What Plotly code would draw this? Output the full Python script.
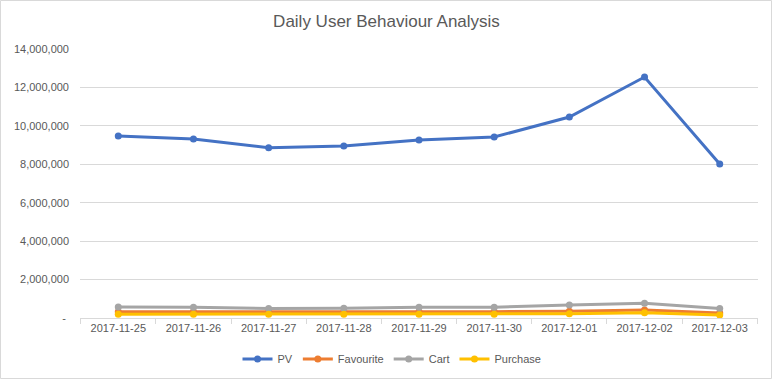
import plotly.graph_objects as go

dates = ["2017-11-25", "2017-11-26", "2017-11-27", "2017-11-28", "2017-11-29",
         "2017-11-30", "2017-12-01", "2017-12-02", "2017-12-03"]
pv = [9470000, 9320000, 8860000, 8950000, 9260000, 9420000, 10460000, 12540000, 8010000]
favourite = [330000, 330000, 310000, 310000, 320000, 330000, 350000, 420000, 260000]
cart = [570000, 560000, 500000, 510000, 560000, 560000, 680000, 770000, 500000]
purchase = [200000, 200000, 190000, 190000, 200000, 200000, 220000, 270000, 150000]

series = [("PV", pv, "#4472C4"), ("Favourite", favourite, "#ED7D31"),
          ("Cart", cart, "#A5A5A5"), ("Purchase", purchase, "#FFC000")]

ytick_vals = [0, 2000000, 4000000, 6000000, 8000000, 10000000, 12000000, 14000000]
ytick_text = [" - "] + [f"{v:,}" for v in ytick_vals[1:]]

fig = go.Figure()
for name, vals, color in series:
    fig.add_trace(go.Scatter(x=dates, y=vals, name=name, mode="lines+markers",
                             line=dict(color=color, width=3),
                             marker=dict(color=color, size=7)))

W, H = 773, 380
ml, mr, mt, mb = 80, 15, 49, 62
pw, ph = W - ml - mr, H - mt - mb

fnt = "Liberation Sans, Arial, sans-serif"
fig.update_layout(
    width=W, height=H,
    margin=dict(l=ml, r=mr, t=mt, b=mb, autoexpand=False),
    paper_bgcolor="white", plot_bgcolor="white",
    font=dict(family=fnt, color="#595959", size=11),
    title=dict(text="Daily User Behaviour Analysis", x=0.5, xanchor="center",
               xref="container", y=1 - 21 / H, yanchor="middle", yref="container",
               font=dict(size=17, color="#595959", family=fnt)),
    showlegend=True,
    legend=dict(orientation="h", x=(392 - ml) / pw, xanchor="center",
                yref="container", y=1 - 359 / H, yanchor="middle",
                font=dict(size=11, color="#595959"), itemwidth=30, tracegroupgap=0),
    xaxis=dict(type="category", tickson="boundaries", ticks="outside", ticklen=5,
               tickcolor="#d9d9d9", showline=True, linecolor="#d9d9d9", linewidth=1,
               showgrid=False, automargin=False, tickfont=dict(size=11, color="#595959")),
    yaxis=dict(range=[0, 14000000], tickvals=ytick_vals, ticktext=ytick_text,
               showgrid=True, gridcolor="#d9d9d9", gridwidth=1, zeroline=False,
               showline=False, ticks="", automargin=False, ticklabelstandoff=10,
               tickfont=dict(size=11, color="#595959")),
    shapes=[dict(type="rect", xref="paper", yref="paper",
                 x0=-(ml - 0.5) / pw, x1=1 + (mr - 1.5) / pw,
                 y0=-(mb - 1.5) / ph, y1=1 + (mt - 0.5) / ph,
                 line=dict(color="#d9d9d9", width=1), layer="below")],
)

fig.write_html("out.html", config={"displayModeBar": False},
               post_script="document.body.style.margin='0';document.body.style.overflow='hidden';")
